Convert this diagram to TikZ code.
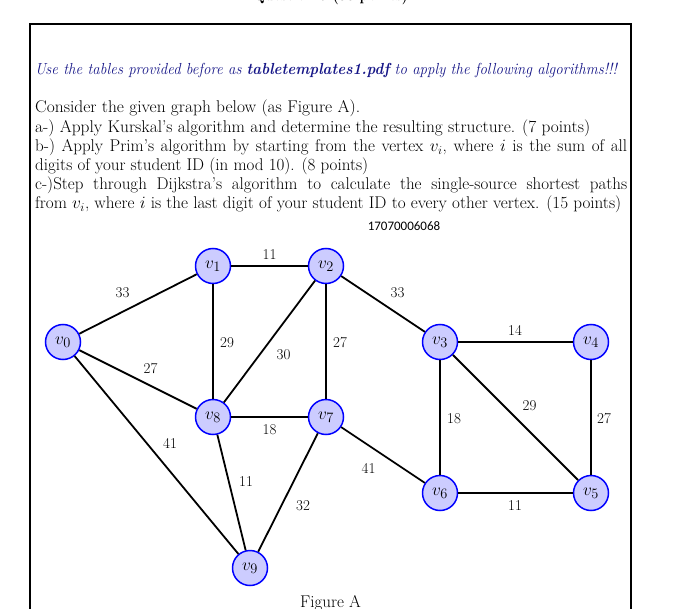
\documentclass[tikz,border=0pt]{standalone}
\usepackage{fontspec}
\newfontfamily\idfont{Carlito}
\definecolor{instr}{RGB}{22,22,135}
\tikzset{
  vtx/.style={circle, draw=blue, fill=blue!20, line width=1.5pt, minimum size=35pt, inner sep=0pt, font=\fontsize{19}{19}\selectfont},
  wlab/.style={inner sep=0pt, font=\fontsize{15}{15}\selectfont},
  edge/.style={line width=1.8pt, black},
  txt/.style={anchor=base west, inner sep=0pt, font=\fontsize{17}{20}\selectfont},
}
\newcommand{\fitw}[2]{\resizebox{#1}{\height}{#2}}
\begin{document}
\begin{tikzpicture}[x=1pt, y=-1pt]
\useasboundingbox (0,0) rectangle (684,609);
% frame
\draw[line width=2.2pt] (30,640) -- (30,24) -- (631,24) -- (631,640);
\node[anchor=base, inner sep=0pt, font=\fontsize{17}{17}\selectfont\bfseries] (q) at (330.5,1) {\fitw{155pt}{Question 5 (30 points)}};
% text
\node[txt, text=instr, font=\fontsize{16}{19}\selectfont] (t0) at (35,75) {\fitw{582pt}{\itshape Use the tables provided before as \textbf{tabletemplates1.pdf} to apply the following algorithms!!!}};
\node[txt] (t1) at (35,113) {\fitw{325pt}{Consider the given graph below (as Figure A).}};
\node[txt] (t2) at (35,133) {\fitw{555pt}{a-) Apply Kurskal's algorithm and determine the resulting structure. (7 points)}};
\node[txt] (t3) at (35,152) {\makebox[592pt][s]{b-) Apply Prim's algorithm by starting from the vertex $v_i$, where $i$ is the sum of all}};
\node[txt] (t4) at (35,171) {\fitw{333pt}{digits of your student ID (in mod 10). (8 points)}};
\node[txt] (t5) at (35,190) {\makebox[592pt][s]{c-)Step through Dijkstra's algorithm to calculate the single-source shortest paths}};
\node[txt] (t6) at (35,209) {\fitw{586pt}{from $v_i$, where $i$ is the last digit of your student ID to every other vertex. (15 points)}};
\node[inner sep=0pt, font=\idfont\fontsize{13}{13}\selectfont] (id) at (404,226) {17070006068};
% vertices
\node[vtx] (v0) at (63,342) {$v_0$};
\node[vtx] (v1) at (213,266) {$v_1$};
\node[vtx] (v2) at (326,266) {$v_2$};
\node[vtx] (v3) at (440,342) {$v_3$};
\node[vtx] (v4) at (591,342) {$v_4$};
\node[vtx] (v5) at (591,493) {$v_5$};
\node[vtx] (v6) at (440,493) {$v_6$};
\node[vtx] (v7) at (326,417) {$v_7$};
\node[vtx] (v8) at (213,417) {$v_8$};
\node[vtx] (v9) at (250,568) {$v_9$};
% edges
\draw[edge] (v0) -- (v1);
\draw[edge] (v0) -- (v8);
\draw[edge] (v0) -- (v9);
\draw[edge] (v1) -- (v2);
\draw[edge] (v1) -- (v8);
\draw[edge] (v2) -- (v8);
\draw[edge] (v2) -- (v7);
\draw[edge] (v2) -- (v3);
\draw[edge] (v8) -- (v7);
\draw[edge] (v8) -- (v9);
\draw[edge] (v7) -- (v9);
\draw[edge] (v7) -- (v6);
\draw[edge] (v3) -- (v4);
\draw[edge] (v3) -- (v6);
\draw[edge] (v3) -- (v5);
\draw[edge] (v4) -- (v5);
\draw[edge] (v6) -- (v5);
% weights
\node[wlab] (w01) at (122.5,293) {33};
\node[wlab] (w08) at (150.5,368.5) {27};
\node[wlab] (w09) at (170,443.5) {41};
\node[wlab] (w12) at (269.5,255) {11};
\node[wlab] (w18) at (227,343) {29};
\node[wlab] (w28) at (283.5,355) {30};
\node[wlab] (w27) at (340,343) {27};
\node[wlab] (w23) at (397.5,293) {33};
\node[wlab] (w34) at (515,330) {14};
\node[wlab] (w36) at (454,418.5) {18};
\node[wlab] (w35) at (529.5,406) {29};
\node[wlab] (w45) at (604,418.5) {27};
\node[wlab] (w76) at (368.5,468) {41};
\node[wlab] (w65) at (515,506) {11};
\node[wlab] (w87) at (269.5,430) {18};
\node[wlab] (w89) at (246,482) {11};
\node[wlab] (w79) at (303,506) {32};
\node[anchor=base, inner sep=0pt, font=\fontsize{17}{17}\selectfont] (fig) at (330.5,607) {Figure A};
\end{tikzpicture}
\end{document}
